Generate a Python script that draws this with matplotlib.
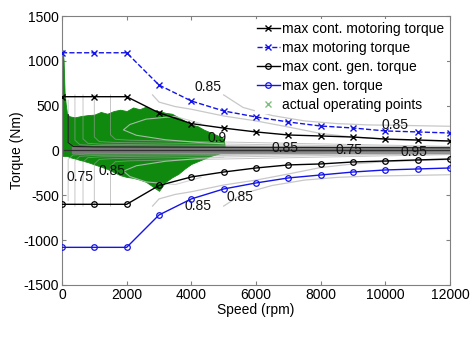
import matplotlib
matplotlib.use("Agg")
import matplotlib.pyplot as plt
from matplotlib.lines import Line2D
import numpy as np

plt.rcParams['font.family'] = ['Liberation Sans', 'DejaVu Sans']
plt.rcParams['axes.unicode_minus'] = False

# ---------------- data ----------------
speed = [0, 1000, 2000, 3000, 4000, 5000, 6000, 7000, 8000, 9000, 10000, 11000, 12000]
max_cont_motoring = [600, 600, 600, 420, 300, 250, 207, 173, 162, 150, 128, 117, 106]
max_motoring = [1090, 1090, 1090, 730, 552, 441, 374, 318, 273, 251, 218, 207, 195]
max_cont_gen = [-600, -600, -600, -390, -295, -240, -195, -161, -150, -128, -117, -105, -95]
max_gen = [-1080, -1080, -1080, -719, -540, -429, -362, -306, -273, -240, -217, -206, -195]

# envelope of the actual operating points cloud
cloud_speed = [0, 20, 50, 80, 120, 160, 250, 400, 600, 800, 1000, 1200, 1400, 1600,
               1800, 2000, 2200, 2400, 2600, 2800, 3000, 3200, 3400, 3600, 3800,
               4000, 4200, 4400, 4600, 4800, 5000, 5050]
cloud_upper = [1100, 1120, 1000, 650, 500, 400, 380, 370, 385, 395, 400, 430, 410, 440,
               455, 440, 480, 460, 490, 450, 440, 420, 410, 370, 330,
               290, 270, 230, 200, 170, 130, 0]
cloud_lower = [-60, -60, -60, -60, -60, -62, -75, -90, -110, -130, -155, -180, -205, -240,
               -275, -295, -305, -325, -350, -400, -450, -350, -300, -260, -200,
               -150, -120, -90, -60, -40, -15, 0]

# efficiency contour polylines (upper half; lower half mirrored)
cont_outer_s = [2800, 3000, 3500, 4000, 5000, 6000, 7000, 8000, 9000, 10000, 12000]
cont_outer_t = [620, 540, 490, 460, 385, 330, 262, 190, 150, 125, 100]
cont_85_s = [5000, 5600, 6500, 7500, 8500, 9500, 10500, 12000]
cont_85_t = [620, 480, 390, 330, 300, 285, 280, 270]
inner_s0 = [190, 400, 650, 1000, 1500]
inner_corner = [40, 55, 70, 90, 115]
inner_top = [560, 620, 620, 620, 620]
island_s = [4300, 3500, 2600, 2100, 1900, 2300, 3200, 4200, 5000]
island_t = [300, 380, 350, 290, 230, 170, 120, 90, 75]
band_levels = [-27, -18, -10, -3, 5, 14, 24, 33, 40]

labels_text = ['0.85', '0.9', '0.85', '0.85', '0.75', '0.95', '0.75', '0.85', '0.85', '0.85']
labels_speed = [4520, 4800, 10300, 6900, 8880, 10900, 560, 1550, 5500, 4200]
labels_torque = [708, 135, 285, 30, 5, -16, -290, -225, -518, -620]

# ---------------- plot ----------------
fig = plt.figure(figsize=(4.74, 3.38), dpi=100)
ax = fig.add_axes([62/474, 1-285/338, 388/474, 269/338])

green = '#0f8a0f'
ax.fill_between(cloud_speed, cloud_lower, cloud_upper, color=green, lw=0.6,
                edgecolor=green, zorder=2)

gray = '#a0a0a0'
light = '#c8c8c8'
# gray band near zero torque
for lv in band_levels:
    ax.plot([300, 12000], [lv, lv], color='#7a7a7a', lw=0.9, zorder=3)
ax.plot([62, 12000], [5, 5], color='#303030', lw=0.9, zorder=3)

for sgn in (1, -1):
    ax.plot(cont_outer_s, [sgn*v for v in cont_outer_t], color=light, lw=0.9, zorder=3)
    ax.plot(cont_85_s, [sgn*v for v in cont_85_t], color=light, lw=0.9, zorder=3)
    for s0, c, tp in zip(inner_s0, inner_corner, inner_top):
        xs = [s0, s0, s0 + 150, s0 + 600, 12000]
        ys = [tp, c + 60, c + 10, c, c * 0.4]
        ax.plot(xs, [sgn*v for v in ys], color=gray, lw=0.7, alpha=0.6, zorder=3)
    ax.plot(island_s, [sgn*v for v in island_t], color=light, lw=0.8, alpha=0.8, zorder=3)
# darker inner contour
ax.plot([190, 190, 350, 1000, 12000], [400, 90, 45, 40, 30], color='#202020', lw=0.9, zorder=3)

for t, s, q in zip(labels_text, labels_speed, labels_torque):
    ax.text(s, q, t, fontsize=10, ha='center', va='center', color='#111111', zorder=4)

ax.plot(speed, max_cont_motoring, color='black', marker='x', ms=4, mew=1, lw=1,
        label='max cont. motoring torque', zorder=5)
ax.plot(speed, max_motoring, color='#1414e6', marker='x', ms=4, mew=1, lw=1, ls='--',
        label='max motoring torque', zorder=5)
ax.plot(speed, max_cont_gen, color='black', marker='o', ms=4, mfc='none', mew=0.9, lw=1,
        label='max cont. gen. torque', zorder=5)
ax.plot(speed, max_gen, color='#1414e6', marker='o', ms=4, mfc='none', mew=0.9, lw=1,
        label='max gen. torque', zorder=5)

handles, labs = ax.get_legend_handles_labels()
handles.append(Line2D([], [], ls='none', marker='x', ms=4, color='#7fc07f'))
labs.append('actual operating points')
leg = ax.legend(handles, labs, loc='upper right', fontsize=10, frameon=True,
                framealpha=1, edgecolor='none', handlelength=1.6, handletextpad=0.2,
                labelspacing=0.36, borderaxespad=0.2, borderpad=0.2)
leg.set_zorder(6)

ax.set_xlim(0, 12000)
ax.set_ylim(-1500, 1500)
ax.set_xticks([0, 2000, 4000, 6000, 8000, 10000, 12000])
ax.set_yticks([-1500, -1000, -500, 0, 500, 1000, 1500])
ax.tick_params(direction='in', length=3, labelsize=10, top=True, right=True,
               color='#808080', pad=2)
for sp in ax.spines.values():
    sp.set_color('#808080')
ax.set_xlabel('Speed (rpm)', fontsize=10, labelpad=1)
ax.set_ylabel('Torque (Nm)', fontsize=10, labelpad=0)

fig.savefig('out.png', dpi=100)
